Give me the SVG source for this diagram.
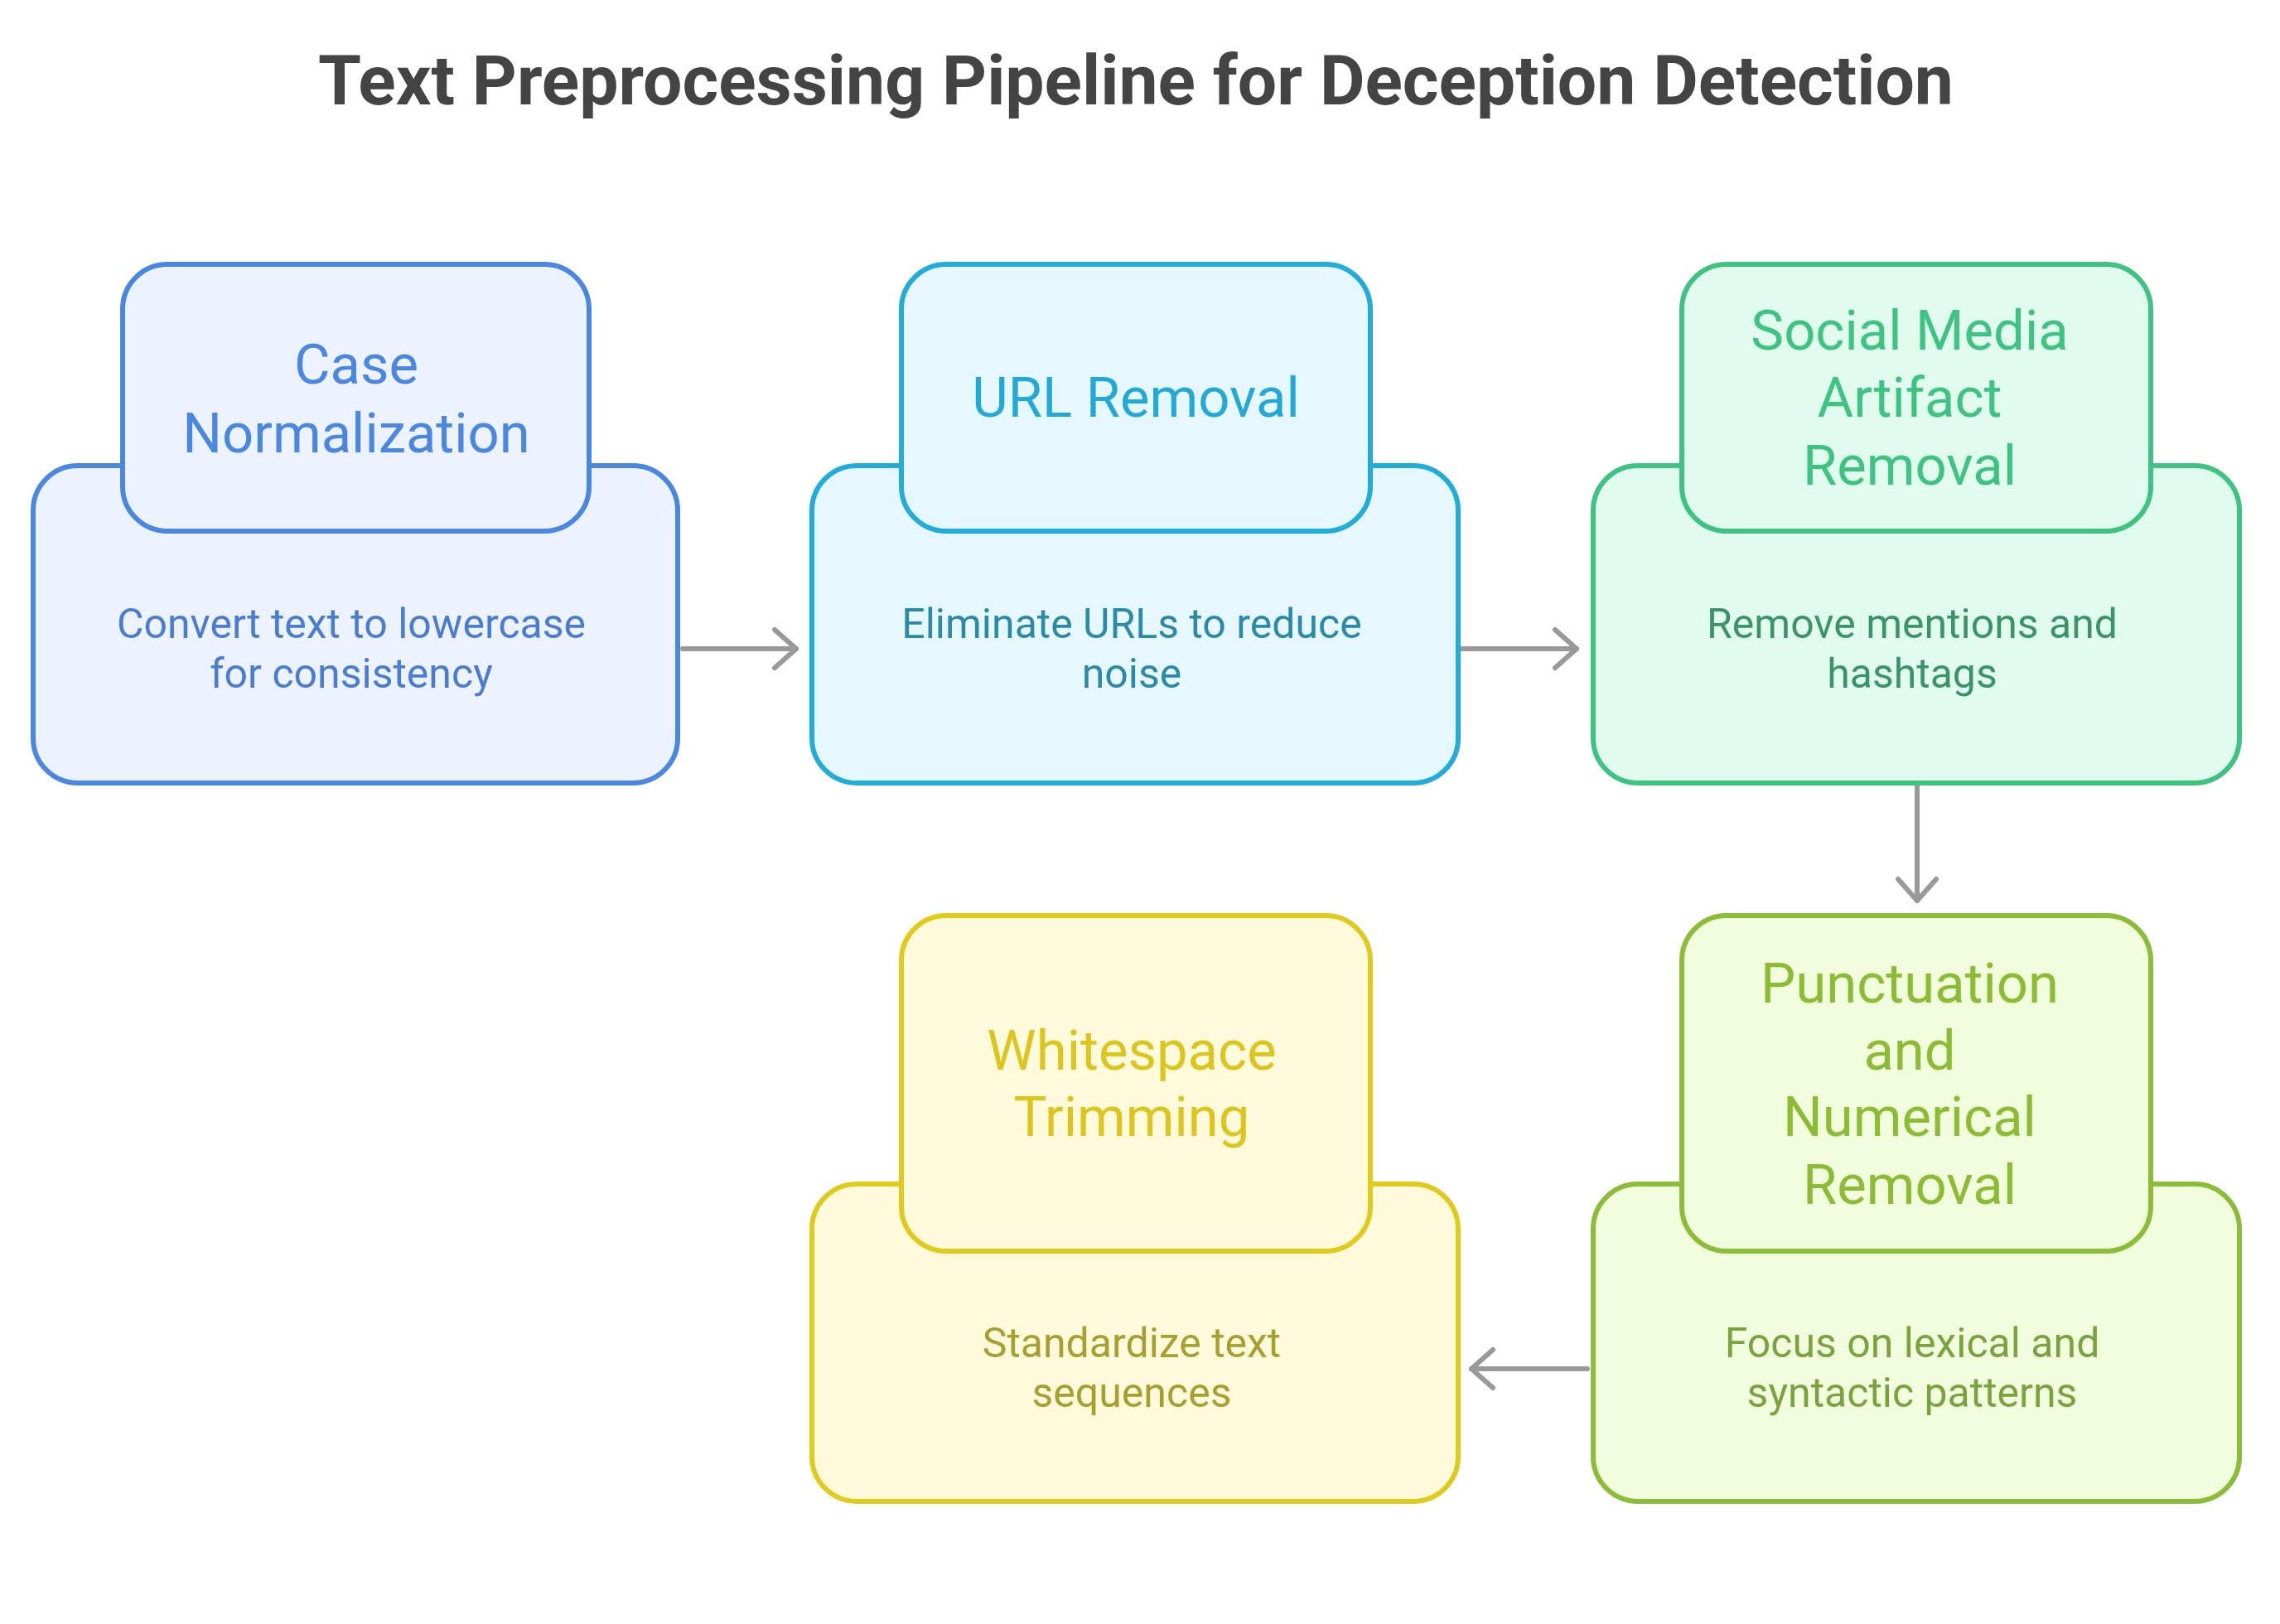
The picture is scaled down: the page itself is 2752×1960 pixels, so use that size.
<svg xmlns="http://www.w3.org/2000/svg" width="2752" height="1960" viewBox="0 0 2752 1960">
<defs>
<style>
.title{font-family:Roboto,"Liberation Sans",sans-serif;font-weight:bold;font-size:84px;fill:#444444;text-anchor:middle}
.hd{font-family:Roboto,"Liberation Sans",sans-serif;font-size:67px;text-anchor:middle}
.ds{font-family:Roboto,"Liberation Sans",sans-serif;font-size:50px;text-anchor:middle}
.box{stroke-width:6}
.conn{fill:none;stroke:#999999;stroke-width:6;stroke-linecap:round;stroke-linejoin:round}
</style>
<marker id="arr" viewBox="0 0 40 60" refX="32" refY="30" markerWidth="40" markerHeight="60" markerUnits="userSpaceOnUse" orient="auto">
<path d="M6,7 L32,30 L6,53" fill="none" stroke="#999999" stroke-width="6" stroke-linecap="round" stroke-linejoin="round"/>
</marker>
</defs>
<rect width="2752" height="1960" fill="#ffffff"/>
<text class="title" x="1371" y="126">Text Preprocessing Pipeline for Deception Detection</text>

<g id="connectors">
<line class="conn" x1="824" y1="783" x2="961" y2="783" marker-end="url(#arr)"/>
<line class="conn" x1="1764" y1="783" x2="1903" y2="783" marker-end="url(#arr)"/>
<line class="conn" x1="2314" y1="949" x2="2314" y2="1087" marker-end="url(#arr)"/>
<line class="conn" x1="1916" y1="1652" x2="1776" y2="1652" marker-end="url(#arr)"/>
</g>

<g id="case-normalization">
<rect class="box" x="40" y="562" width="778" height="383" rx="54" fill="#ecf3fe" stroke="#4a87e0"/>
<rect class="box" x="148" y="319" width="563" height="322" rx="54" fill="#ecf3fe" stroke="#4a87e0"/>
<text class="hd" fill="#4a87e0" x="430"><tspan x="430" y="463">Case</tspan><tspan x="430" y="546">Normalization</tspan></text>
<text class="ds" fill="#4a7dd2"><tspan x="424" y="770">Convert text to lowercase</tspan><tspan x="424" y="830">for consistency</tspan></text>
</g>

<g id="url-removal">
<rect class="box" x="980" y="562" width="780" height="383" rx="54" fill="#e6f8fe" stroke="#22acd8"/>
<rect class="box" x="1088" y="319" width="566" height="322" rx="54" fill="#e6f8fe" stroke="#22acd8"/>
<text class="hd" fill="#22a9d6" x="1371" y="503">URL Removal</text>
<text class="ds" fill="#2b8aa8"><tspan x="1366" y="770">Eliminate URLs to reduce</tspan><tspan x="1366" y="830">noise</tspan></text>
</g>

<g id="social-media-artifact-removal">
<rect class="box" x="1923" y="562" width="780" height="383" rx="54" fill="#e1fcef" stroke="#3ec383"/>
<rect class="box" x="2030" y="319" width="566" height="322" rx="54" fill="#e1fcef" stroke="#3ec383"/>
<text class="hd" fill="#3ec383"><tspan x="2305" y="422">Social Media</tspan><tspan x="2305" y="503">Artifact</tspan><tspan x="2305" y="585">Removal</tspan></text>
<text class="ds" fill="#3a9468"><tspan x="2308" y="770">Remove mentions and</tspan><tspan x="2308" y="830">hashtags</tspan></text>
</g>

<g id="punctuation-numerical-removal">
<rect class="box" x="1923" y="1429" width="780" height="383" rx="54" fill="#f2fddd" stroke="#8cbd38"/>
<rect class="box" x="2030" y="1105" width="566" height="405" rx="54" fill="#f2fddd" stroke="#8cbd38"/>
<text class="hd" fill="#8cbc34"><tspan x="2305" y="1210">Punctuation</tspan><tspan x="2305" y="1291">and</tspan><tspan x="2305" y="1371">Numerical</tspan><tspan x="2305" y="1453">Removal</tspan></text>
<text class="ds" fill="#7aa33f"><tspan x="2308" y="1638">Focus on lexical and</tspan><tspan x="2308" y="1698">syntactic patterns</tspan></text>
</g>

<g id="whitespace-trimming">
<rect class="box" x="980" y="1429" width="780" height="383" rx="54" fill="#fefadb" stroke="#e0cb1c"/>
<rect class="box" x="1088" y="1105" width="566" height="405" rx="54" fill="#fefadb" stroke="#e0cb1c"/>
<text class="hd" fill="#dcc51c"><tspan x="1366" y="1291">Whitespace</tspan><tspan x="1366" y="1371">Trimming</tspan></text>
<text class="ds" fill="#a8a02e"><tspan x="1366" y="1638">Standardize text</tspan><tspan x="1366" y="1698">sequences</tspan></text>
</g>
</svg>
